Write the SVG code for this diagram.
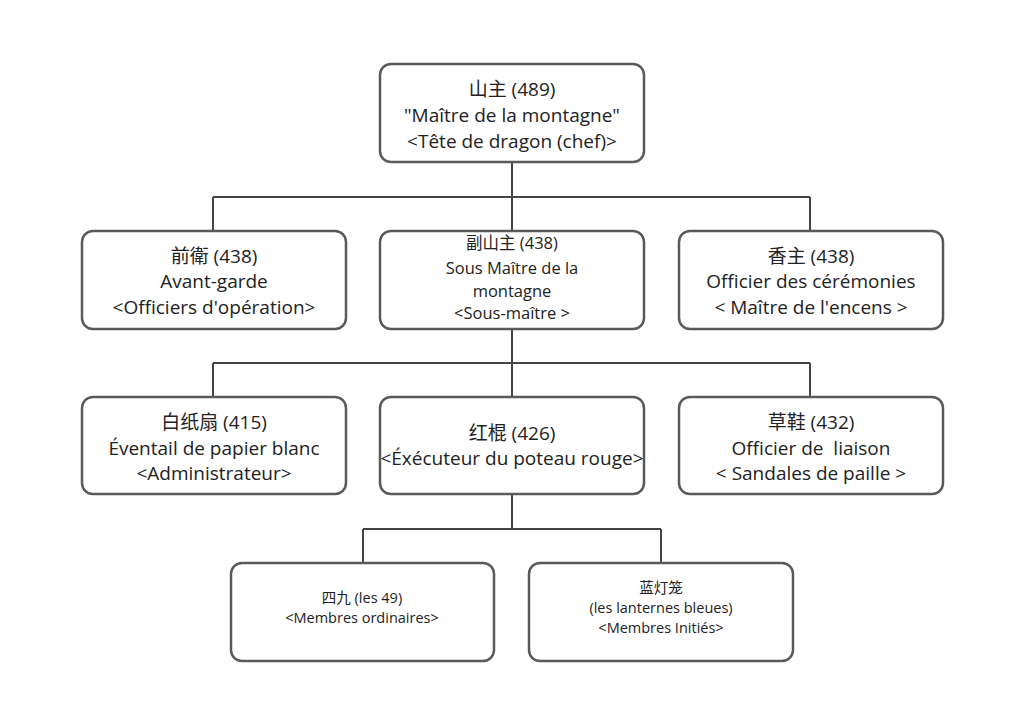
<svg xmlns="http://www.w3.org/2000/svg" width="1024" height="724" viewBox="0 0 1024 724">
<style>
.box{fill:#fff;stroke:#5a5a5a;stroke-width:2.5}
.t{font-family:"Open Sans","Noto Sans CJK SC",sans-serif;fill:#222;text-anchor:middle;font-size:19px;white-space:pre}
.s{font-size:16.5px}
.xs{font-size:14.5px}
.c{fill:none;stroke:#444;stroke-width:2}
</style>
<rect width="1024" height="724" fill="#fff"/>
<g id="connectors">
<path class="c" d="M512 162V197M213 197H810M213 197V231M512 197V231M810 197V231"/>
<path class="c" d="M512 329V363M213 363H810M213 363V397M512 363V397M810 363V397"/>
<path class="c" d="M512 494V529M363 529H661M363 529V563M661 529V563"/>
</g>
<g id="n-shanzhu">
<rect class="box" x="380" y="64" width="264" height="98" rx="11"/>
<text class="t" x="512" y="96">山主 (489)</text>
<text class="t" x="512" y="122">"Maître de la montagne"</text>
<text class="t" x="512" y="148">&lt;Tête de dragon (chef)&gt;</text>
</g>
<g id="n-qianwei">
<rect class="box" x="82" y="231" width="264" height="98" rx="11"/>
<text class="t" x="214" y="263">前衛 (438)</text>
<text class="t" x="214" y="288">Avant-garde</text>
<text class="t" x="214" y="314">&lt;Officiers d'opération&gt;</text>
</g>
<g id="n-fushanzhu">
<rect class="box" x="380" y="231" width="264" height="98" rx="11"/>
<text class="t s" x="512" y="249">副山主 (438)</text>
<text class="t s" x="512" y="274">Sous Maître de la</text>
<text class="t s" x="512" y="297">montagne</text>
<text class="t s" x="512" y="319">&lt;Sous-maître &gt;</text>
</g>
<g id="n-xiangzhu">
<rect class="box" x="679" y="231" width="264" height="98" rx="11"/>
<text class="t" x="811" y="263">香主 (438)</text>
<text class="t" x="811" y="288">Officier des cérémonies</text>
<text class="t" x="811" y="314">&lt; Maître de l'encens &gt;</text>
</g>
<g id="n-baizhishan">
<rect class="box" x="82" y="397" width="264" height="97" rx="11"/>
<text class="t" x="214" y="429">白纸扇 (415)</text>
<text class="t" x="214" y="455">Éventail de papier blanc</text>
<text class="t" x="214" y="480">&lt;Administrateur&gt;</text>
</g>
<g id="n-honggun">
<rect class="box" x="380" y="397" width="264" height="97" rx="11"/>
<text class="t" x="512" y="440">红棍 (426)</text>
<text class="t" x="512" y="465">&lt;Éxécuteur du poteau rouge&gt;</text>
</g>
<g id="n-caoxie">
<rect class="box" x="679" y="397" width="264" height="97" rx="11"/>
<text class="t" x="811" y="429">草鞋 (432)</text>
<text class="t" x="811" y="455">Officier de  liaison</text>
<text class="t" x="811" y="480">&lt; Sandales de paille &gt;</text>
</g>
<g id="n-sijiu">
<rect class="box" x="231" y="563" width="263" height="98" rx="11"/>
<text class="t xs" x="362" y="603">四九 (les 49)</text>
<text class="t xs" x="362" y="623">&lt;Membres ordinaires&gt;</text>
</g>
<g id="n-landenglong">
<rect class="box" x="529" y="563" width="264" height="98" rx="11"/>
<text class="t xs" x="661" y="593">蓝灯笼</text>
<text class="t xs" x="661" y="613">(les lanternes bleues)</text>
<text class="t xs" x="661" y="633">&lt;Membres Initiés&gt;</text>
</g>
</svg>
